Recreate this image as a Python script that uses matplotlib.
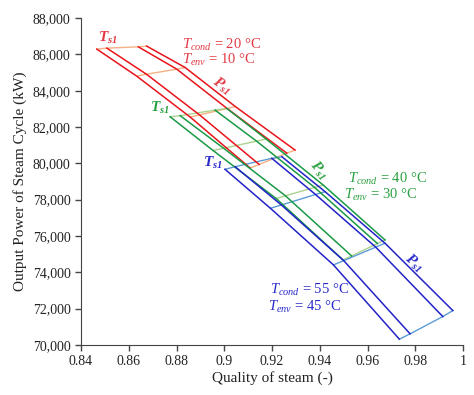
import matplotlib
matplotlib.use("Agg")
import matplotlib.pyplot as plt
import numpy as np
from matplotlib.ticker import FuncFormatter, MultipleLocator

plt.rcParams['font.family'] = ['Liberation Serif', 'DejaVu Serif']
plt.rcParams['mathtext.fontset'] = 'custom'
plt.rcParams['mathtext.rm'] = 'Liberation Serif'
plt.rcParams['mathtext.it'] = 'Liberation Serif:italic'
plt.rcParams['mathtext.bf'] = 'Liberation Serif:italic:bold'

# rows: cross lines (top -> bottom), columns: the four long curves
red_quality = [[0.8466, 0.8508, 0.8640, 0.8675],
               [0.8633, 0.8674, 0.8801, 0.8836],
               [0.8857, 0.8896, 0.9012, 0.9046],
               [0.9108, 0.9146, 0.9262, 0.9296]]
red_power = [[86294, 86349, 86420, 86459],
             [84807, 84912, 85190, 85280],
             [82551, 82672, 83020, 83130],
             [79743, 79941, 80558, 80734]]

green_quality = [[0.8773, 0.8815, 0.8961, 0.9010],
                 [0.8953, 0.8997, 0.9135, 0.9175],
                 [0.9217, 0.9256, 0.9378, 0.9414],
                 [0.9497, 0.9533, 0.9641, 0.9673]]
green_power = [[82567, 82628, 82936, 83030],
               [80707, 80833, 81224, 81339],
               [78064, 78213, 78675, 78807],
               [74679, 74899, 75582, 75780]]

blue_quality = [[0.9003, 0.9045, 0.9199, 0.9241],
                [0.9193, 0.9239, 0.9382, 0.9422],
                [0.9457, 0.9500, 0.9634, 0.9673],
                [0.9733, 0.9778, 0.9915, 0.9957]]
blue_power = [[79672, 79815, 80277, 80365],
              [77525, 77706, 78284, 78439],
              [74404, 74640, 75384, 75598],
              [70314, 70606, 71558, 71888]]

groups = [
    (red_quality, red_power, '#e8141c', '#f4b183'),
    (green_quality, green_power, '#1a9a45', '#acd28f'),
    (blue_quality, blue_power, '#2323c8', '#5b9bd5'),
]

fig = plt.figure(figsize=(4.74, 3.95), dpi=100)
ax = fig.add_axes([0.171, 0.127, 0.806, 0.827])

for q, p, dark, light in groups:
    q = np.array(q); p = np.array(p)
    for j in range(q.shape[1]):
        ax.plot(q[:, j], p[:, j], color=dark, lw=1.1, zorder=3)
    for i in range(q.shape[0]):
        ax.plot(q[i, :], p[i, :], color=light, lw=1.0, zorder=2)

ax.set_xlim(0.84, 1.0)
ax.set_ylim(70000, 88000)
ax.xaxis.set_major_locator(MultipleLocator(0.02))
ax.yaxis.set_major_locator(MultipleLocator(2000))
ax.xaxis.set_major_formatter(FuncFormatter(lambda v, _: f"{v:.2f}".rstrip('0').rstrip('.')))
ax.yaxis.set_major_formatter(FuncFormatter(lambda v, _: f"{int(round(v)):,}"))
for s in ['top', 'right']:
    ax.spines[s].set_visible(False)
for s in ['left', 'bottom']:
    ax.spines[s].set_color('#444444')
ax.tick_params(direction='out', length=4, width=1, colors='#444444', labelsize=10, labelcolor='#222222')
ax.set_xlabel('Quality of steam (-)', fontsize=11, color='#222222', labelpad=2)
ax.set_ylabel('Output Power of Steam Cycle (kW)', fontsize=11, color='#222222', labelpad=4)

red_t = '#e23a44'; green_t = '#2aa040'; blue_t = '#2a2acc'
fs = 11
fs2 = 10.5
ax.text(0.8513, 86900, r'$\mathbf{T_{s1}}$', color=red_t, fontsize=fs, ha='center', va='center')
ax.text(0.8991, 84258, r'$\mathbf{P_{s1}}$', color=red_t, fontsize=fs, ha='center', va='center', rotation=-35)
ax.text(0.8823, 86515, r'$T_{cond}$ = 20 °C', color=red_t, fontsize=fs2, ha='left', va='center')
ax.text(0.8823, 85689, r'$T_{env}$ = 10 °C', color=red_t, fontsize=fs2, ha='left', va='center')

ax.text(0.8731, 83046, r'$\mathbf{T_{s1}}$', color=green_t, fontsize=fs, ha='center', va='center')
ax.text(0.9393, 79633, r'$\mathbf{P_{s1}}$', color=green_t, fontsize=fs, ha='center', va='center', rotation=-50)
ax.text(0.9519, 79138, r'$T_{cond}$ = 40 °C', color=green_t, fontsize=fs2, ha='left', va='center')
ax.text(0.9502, 78257, r'$T_{env}$ = 30 °C', color=green_t, fontsize=fs2, ha='left', va='center')

ax.text(0.8953, 80019, r'$\mathbf{T_{s1}}$', color=blue_t, fontsize=fs, ha='center', va='center')
ax.text(0.9795, 74514, r'$\mathbf{P_{s1}}$', color=blue_t, fontsize=fs, ha='center', va='center', rotation=-40)
ax.text(0.9192, 73028, r'$T_{cond}$ = 55 °C', color=blue_t, fontsize=fs2, ha='left', va='center')
ax.text(0.9183, 72092, r'$T_{env}$ = 45 °C', color=blue_t, fontsize=fs2, ha='left', va='center')

fig.savefig('out.png', dpi=100)
